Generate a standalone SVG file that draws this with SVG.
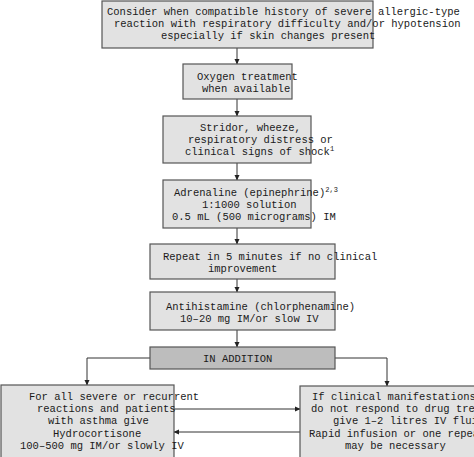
<svg xmlns="http://www.w3.org/2000/svg" width="474" height="457" viewBox="0 0 474 457">
<defs>
<marker id="ah" markerWidth="6" markerHeight="6" refX="5" refY="3" orient="auto" markerUnits="userSpaceOnUse">
<path d="M0,0.5 L5.5,3 L0,5.5 Z" fill="#222"/>
</marker>
<style>
.box{fill:#e2e2e2;stroke:#555;stroke-width:1.2}
.dark{fill:#bdbdbd;stroke:#555;stroke-width:1.2}
text{font-family:"Liberation Mono","Courier New",monospace;font-size:10.5px;fill:#1a1a1a}
.sup{font-size:7px}
.c{fill:none;stroke:#333;stroke-width:1}
</style>
</defs>
<rect width="474" height="457" fill="#fff"/>
<g id="connectors">
<line class="c" x1="237" y1="48" x2="237" y2="64" marker-end="url(#ah)"/>
<line class="c" x1="237" y1="99" x2="237" y2="116" marker-end="url(#ah)"/>
<line class="c" x1="237" y1="163" x2="237" y2="180" marker-end="url(#ah)"/>
<line class="c" x1="237" y1="228" x2="237" y2="244" marker-end="url(#ah)"/>
<line class="c" x1="237" y1="279" x2="237" y2="292" marker-end="url(#ah)"/>
<line class="c" x1="237" y1="330" x2="237" y2="347" marker-end="url(#ah)"/>
<polyline class="c" points="150,358 87,358 87,385" marker-end="url(#ah)"/>
<polyline class="c" points="335,358 387,358 387,386" marker-end="url(#ah)"/>
<line class="c" x1="174" y1="409" x2="300" y2="409" marker-end="url(#ah)"/>
<line class="c" x1="300" y1="432" x2="174" y2="432" marker-end="url(#ah)"/>
</g>
<g id="n1">
<rect class="box" x="102" y="1" width="271" height="47"/>
<text x="107" y="15">Consider when compatible history of severe allergic-type</text>
<text x="114" y="27">reaction with respiratory difficulty and/or hypotension</text>
<text x="161" y="39">especially if skin changes present</text>
</g>
<g id="n2">
<rect class="box" x="183" y="64" width="109" height="35"/>
<text x="197" y="80">Oxygen treatment</text>
<text x="202" y="92">when available</text>
</g>
<g id="n3">
<rect class="box" x="163" y="116" width="148" height="47"/>
<text x="200" y="131">Stridor, wheeze,</text>
<text x="188" y="143">respiratory distress or</text>
<text x="185" y="155">clinical signs of shock<tspan class="sup" dy="-4">1</tspan></text>
</g>
<g id="n4">
<rect class="box" x="163" y="180" width="148" height="48"/>
<text x="174" y="196">Adrenaline (epinephrine)<tspan class="sup" dy="-4">2,3</tspan></text>
<text x="202" y="208">1:1000 solution</text>
<text x="172" y="220">0.5 mL (500 micrograms) IM</text>
</g>
<g id="n5">
<rect class="box" x="150" y="244" width="185" height="35"/>
<text x="163" y="260">Repeat in 5 minutes if no clinical</text>
<text x="208" y="272">improvement</text>
</g>
<g id="n6">
<rect class="box" x="150" y="292" width="185" height="38"/>
<text x="166" y="310">Antihistamine (chlorphenamine)</text>
<text x="180" y="322">10–20 mg IM/or slow IV</text>
</g>
<g id="n7">
<rect class="dark" x="150" y="347" width="185" height="22"/>
<text x="203" y="362">IN ADDITION</text>
</g>
<g id="n8">
<rect class="box" x="1" y="385" width="173" height="74"/>
<text x="29" y="400">For all severe or recurrent</text>
<text x="37" y="412">reactions and patients</text>
<text x="48" y="424">with asthma give</text>
<text x="53" y="437">Hydrocortisone</text>
<text x="20" y="449">100–500 mg IM/or slowly IV</text>
</g>
<g id="n9">
<rect class="box" x="300" y="386" width="176" height="73"/>
<text x="312" y="400">If clinical manifestations</text>
<text x="311" y="412">do not respond to drug treatment</text>
<text x="333" y="424">give 1–2 litres IV fluid</text>
<text x="309" y="437">Rapid infusion or one repeat dose</text>
<text x="345" y="449">may be necessary</text>
</g>
</svg>
